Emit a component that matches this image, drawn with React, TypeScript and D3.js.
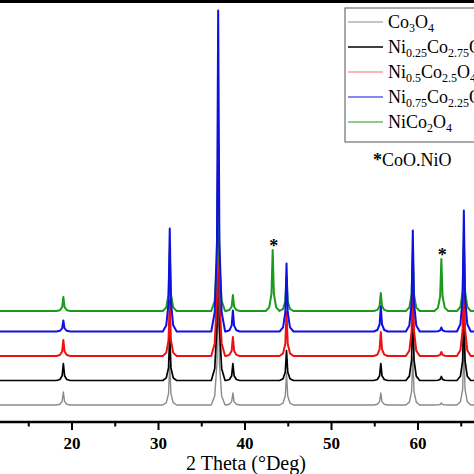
import { useEffect, useRef } from "react";
import * as d3 from "d3";

// Peak positions (2 theta, deg) shared by all spinel samples
const PEAKS = [19.0, 31.3, 36.9, 38.6, 44.8, 55.7, 59.4, 62.7, 65.3];
// Extra CoO.NiO reflection only in NiCo2O4
const IMPURITY_PEAK = 43.2;

const SERIES_NAMES = ["Co3O4", "Ni0.25Co2.75O4", "Ni0.5Co2.5O4", "Ni0.75Co2.25O4", "NiCo2O4"];
// Stacked offset of each pattern (a.u.)
const BASELINES = [170, 415, 660, 905, 1110];
// Peak heights above baseline, same order as PEAKS
const HEIGHTS_CO3O4 = [130, 400, 1500, 120, 320, 120, 480, 20, 550];
const HEIGHTS_NI025 = [170, 450, 1970, 170, 300, 170, 730, 40, 700];
const HEIGHTS_NI05 = [160, 560, 2100, 190, 440, 240, 890, 40, 950];
const HEIGHTS_NI075 = [110, 1030, 3210, 210, 680, 250, 1010, 40, 1210];
const HEIGHTS_NICO2O4 = [140, 600, 1710, 160, 350, 180, 580, 520, 700];
const IMPURITY_HEIGHT = 610;

const COLORS = ["#8a8a8a", "#000000", "#ee1111", "#1010e0", "#1c9a1c"];
const X_TICKS = [20, 30, 40, 50, 60];
const X_MINOR = [15, 25, 35, 45, 55, 65];

// peak profile: offset in deg, fraction of height
const PROFILE: [number, number][] = [
  [-0.8, 0],
  [-0.4, 0.06],
  [-0.14, 0.28],
  [0, 1],
  [0.14, 0.28],
  [0.4, 0.06],
  [0.8, 0],
];

// legend label parts: [text, isSubscript]
const LEGEND_PARTS: [string, boolean][][] = [
  [["Co", false], ["3", true], ["O", false], ["4", true]],
  [["Ni", false], ["0.25", true], ["Co", false], ["2.75", true], ["O", false], ["4", true]],
  [["Ni", false], ["0.5", true], ["Co", false], ["2.5", true], ["O", false], ["4", true]],
  [["Ni", false], ["0.75", true], ["Co", false], ["2.25", true], ["O", false], ["4", true]],
  [["NiCo", false], ["2", true], ["O", false], ["4", true]],
];

const W = 474;
const H = 474;

export default function App() {
  const svgRef = useRef<SVGSVGElement>(null);

  useEffect(() => {
    document.body.style.margin = "0";
    const svg = d3.select(svgRef.current!);
    svg.selectAll("*").remove();

    const serif = "'Liberation Serif', 'Times New Roman', serif";
    const x = d3.scaleLinear().domain([20, 60]).range([72, 418]);
    const y = d3.scaleLinear().domain([0, 4200]).range([422, 2]);

    const allHeights = [HEIGHTS_CO3O4, HEIGHTS_NI025, HEIGHTS_NI05, HEIGHTS_NI075, HEIGHTS_NICO2O4];

    const buildPoints = (i: number) => {
      const base = BASELINES[i];
      const peaks = PEAKS.map((p, k) => [p, allHeights[i][k]] as [number, number]);
      if (i === 4) peaks.push([IMPURITY_PEAK, IMPURITY_HEIGHT]);
      peaks.sort((a, b) => a[0] - b[0]);
      const pts: [number, number][] = [[10, base]];
      for (const [p, h] of peaks) {
        for (const [off, frac] of PROFILE) pts.push([p + off, base + h * frac]);
      }
      pts.push([68, base]);
      return pts;
    };

    const line = d3
      .line<[number, number]>()
      .x((d) => x(d[0]))
      .y((d) => y(d[1]));

    const g = svg.append("g");
    // blue drawn last so it sits on top like the original
    const order = [0, 1, 2, 4, 3];
    for (const i of order) {
      g.append("path")
        .attr("d", line(buildPoints(i)))
        .attr("fill", "none")
        .attr("stroke", COLORS[i])
        .attr("stroke-width", i === 0 ? 1.4 : i === 1 ? 1.7 : 2)
        .attr("stroke-linejoin", "round");
    }

    // asterisks over impurity peaks
    const greenBase = BASELINES[4];
    const starPeaks: [number, number][] = [
      [IMPURITY_PEAK, IMPURITY_HEIGHT],
      [PEAKS[7], HEIGHTS_NICO2O4[7]],
    ];
    for (const [p, h] of starPeaks) {
      svg.append("text")
        .attr("x", x(p) + 1)
        .attr("y", y(greenBase + h) + 2)
        .attr("text-anchor", "middle")
        .attr("font-family", serif)
        .attr("font-weight", "bold")
        .attr("font-size", 18)
        .text("*");
    }

    // top frame
    svg.append("line")
      .attr("x1", 0).attr("x2", W)
      .attr("y1", 1.5).attr("y2", 1.5)
      .attr("stroke", "#000").attr("stroke-width", 3);

    // bottom axis
    const axisY = y(0);
    svg.append("line")
      .attr("x1", 0).attr("x2", W)
      .attr("y1", axisY).attr("y2", axisY)
      .attr("stroke", "#000").attr("stroke-width", 2.5);

    svg.selectAll(".major")
      .data(X_TICKS.concat([10]))
      .join("line")
      .attr("x1", (d) => x(d)).attr("x2", (d) => x(d))
      .attr("y1", axisY).attr("y2", axisY + 8)
      .attr("stroke", "#000").attr("stroke-width", 2);

    svg.selectAll(".minor")
      .data(X_MINOR)
      .join("line")
      .attr("x1", (d) => x(d)).attr("x2", (d) => x(d))
      .attr("y1", axisY).attr("y2", axisY + 4.5)
      .attr("stroke", "#000").attr("stroke-width", 2);

    svg.selectAll(".tick-label")
      .data(X_TICKS)
      .join("text")
      .attr("x", (d) => x(d))
      .attr("y", axisY + 27)
      .attr("text-anchor", "middle")
      .attr("font-family", serif)
      .attr("font-weight", "bold")
      .attr("font-size", 17)
      .text((d) => d);

    svg.append("text")
      .attr("x", 246)
      .attr("y", 470)
      .attr("text-anchor", "middle")
      .attr("font-family", serif)
      .attr("font-size", 20)
      .text("2 Theta (°Deg)");

    // legend
    const lg = svg.append("g").attr("transform", "translate(345,8)");
    lg.append("rect")
      .attr("x", 0).attr("y", 0)
      .attr("width", 200).attr("height", 134)
      .attr("fill", "#fff")
      .attr("stroke", "#555").attr("stroke-width", 1);

    SERIES_NAMES.forEach((name, i) => {
      const ly = 14 + i * 25;
      lg.append("line")
        .attr("x1", 3).attr("x2", 38)
        .attr("y1", ly).attr("y2", ly)
        .attr("stroke", COLORS[i])
        .attr("stroke-width", i === 1 ? 1.6 : 1)
        .attr("opacity", i === 2 ? 0.6 : 1);
      const t = lg.append("text")
        .attr("x", 43)
        .attr("y", ly + 6)
        .attr("font-family", serif)
        .attr("font-size", 18)
        .attr("data-name", name);
      let sub = false;
      for (const [txt, isSub] of LEGEND_PARTS[i]) {
        const ts = t.append("tspan").text(txt);
        if (isSub && !sub) ts.attr("dy", 4).attr("font-size", 12);
        else if (isSub) ts.attr("font-size", 12);
        else if (sub) ts.attr("dy", -4);
        sub = isSub;
      }
    });

    const note = svg.append("text")
      .attr("x", 373)
      .attr("y", 166)
      .attr("font-family", serif)
      .attr("font-size", 18);
    note.append("tspan").attr("font-weight", "bold").attr("font-size", 18).text("*");
    note.append("tspan").text("CoO.NiO");
  }, []);

  return (
    <svg
      ref={svgRef}
      width={W}
      height={H}
      style={{ position: "absolute", left: 0, top: 0, background: "#fff" }}
    />
  );
}
